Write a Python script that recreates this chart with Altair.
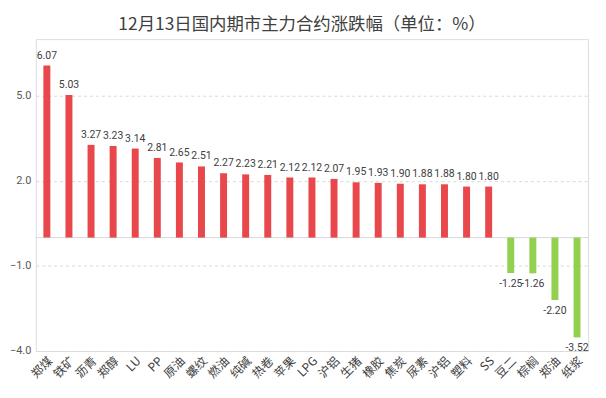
import altair as alt
import pandas as pd

names = ["郑煤", "铁矿", "沥青", "郑醇", "LU", "PP", "原油", "螺纹", "燃油", "纯碱",
         "热卷", "苹果", "LPG", "沪铝", "生猪", "橡胶", "焦炭", "尿素", "沪铝", "塑料",
         "SS", "豆二", "棕榈", "郑油", "纸浆"]
values = [6.07, 5.03, 3.27, 3.23, 3.14, 2.81, 2.65, 2.51, 2.27, 2.23,
          2.21, 2.12, 2.12, 2.07, 1.95, 1.93, 1.90, 1.88, 1.88, 1.80,
          1.80, -1.25, -1.26, -2.20, -3.52]
y_ticks = [-4, -1, 2, 5]

df = pd.DataFrame({"idx": list(range(len(names))), "name": names, "value": values})
df["label"] = df["value"].map(lambda v: f"{v:.2f}")
df["sign"] = df["value"].map(lambda v: "pos" if v >= 0 else "neg")

FONT = "Noto Sans CJK SC"
NUMFONT = "Roboto"
arr = "[" + ",".join(f"'{n}'" for n in names) + "]"

x = alt.X("idx:O", title=None,
          axis=alt.Axis(labelExpr=f"{arr}[datum.value]", labelAngle=-45, ticks=False,
                        domain=False, labelFontSize=12, labelColor="#404040",
                        labelFont=FONT, labelPadding=4))
yscale = alt.Scale(domain=[-4, 7], nice=False, zero=False)
y = alt.Y("value:Q", scale=yscale, title=None,
          axis=alt.Axis(values=y_ticks, format=".1f", ticks=False, domain=False,
                        gridDash=[3, 3], gridColor="#d9d9d9", labelFontSize=11,
                        labelColor="#595959", labelPadding=5, labelFont=NUMFONT))

base = alt.Chart(df)

bars = base.mark_bar(size=7).encode(
    x=x, y=y, y2=alt.datum(0),
    color=alt.Color("sign:N", scale=alt.Scale(domain=["pos", "neg"], range=["#E8474B", "#92D050"]), legend=None),
)

zero = alt.Chart(pd.DataFrame({"z": [0]})).mark_rule(color="#d9d9d9", strokeWidth=1).encode(
    y=alt.Y("z:Q", scale=yscale)
)

pos_text = base.transform_filter("datum.value >= 0").mark_text(
    baseline="bottom", dy=-5, fontSize=10.5, color="#404040", font=NUMFONT
).encode(x=x, y=alt.Y("value:Q", scale=yscale), text="label:N")

neg_text = base.transform_filter("datum.value < 0").mark_text(
    baseline="top", dy=6, fontSize=10.5, color="#404040", font=NUMFONT
).encode(x=x, y=alt.Y("value:Q", scale=yscale), text="label:N")

chart = alt.layer(zero, bars, pos_text, neg_text).properties(
    width=556, height=314,
    title=alt.TitleParams("12月13日国内期市主力合约涨跌幅（单位：%）", fontSize=17.5,
                          fontWeight="normal", color="#404040", font=FONT,
                          anchor="middle", dx=-10, offset=6),
    autosize=alt.AutoSizeParams(type="none"),
    padding={"left": 28, "top": 30, "right": 10, "bottom": 50},
).configure_view(stroke=None).configure(background="white")

chart.save("out.html", embed_options={"renderer": "svg", "actions": False})
